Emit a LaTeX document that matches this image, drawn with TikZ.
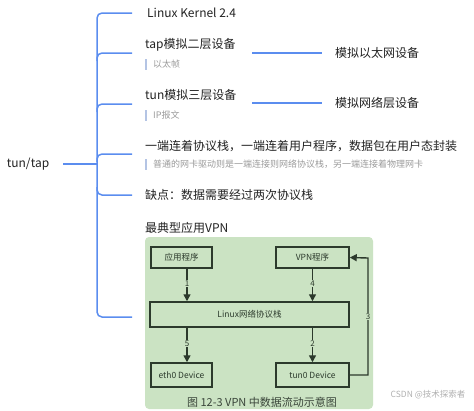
\documentclass[tikz,border=0pt]{standalone}
\usepackage{fontspec}
\setmainfont{Noto Sans CJK SC}
\usetikzlibrary{arrows.meta}
\definecolor{branchc}{HTML}{5B8DEF}
\definecolor{textc}{HTML}{222222}
\definecolor{subc}{HTML}{9A9A9A}
\definecolor{barc}{HTML}{B4C4E4}
\definecolor{panel}{HTML}{CBE3C3}
\definecolor{boxc}{HTML}{2C3A2C}
\definecolor{capc}{HTML}{3A453A}
\definecolor{wmc}{HTML}{B0B0B0}
\begin{document}
\begin{tikzpicture}[x=1pt,y=-1pt,
  br/.style={draw=branchc, line width=1.5pt, rounded corners=5pt},
  main/.style={anchor=west, inner sep=0pt, font=\fontsize{12}{14}\selectfont, text=textc},
  sub/.style={anchor=west, inner sep=0pt, font=\fontsize{9}{11}\selectfont, text=subc},
  bar/.style={draw=barc, line width=1.5pt},
  box/.style={draw=boxc, line width=1.5pt, fill=panel, inner sep=0pt, font=\fontsize{8.5}{10}\selectfont, text=boxc},
  flow/.style={draw=boxc, line width=1.4pt, -{Triangle[length=7pt,width=7pt]}},
  num/.style={fill=panel, inner sep=0.8pt, font=\fontsize{8}{9}\selectfont, text=boxc}]
\useasboundingbox (0,0) rectangle (474,410);

% root
\node[inner xsep=14pt, inner ysep=0pt, font=\fontsize{12}{14}\selectfont, text=textc] (root) at (28,164) {tun/tap};
\coordinate (j) at (97,164);
\draw[br] (root.east) -- (j);

% branch ends
\coordinate (b1) at (132,13);
\coordinate (b2) at (132,53);
\coordinate (b3) at (132,104);
\coordinate (b4) at (132,154);
\coordinate (b5) at (132,195);
\coordinate (b6) at (132,317);

\draw[br] (b1) -- (97,13) -- (97,317) -- (b6);
\draw[br] (97,61) -- (97,53) -- (b2);
\draw[br] (97,112) -- (97,104) -- (b3);
\draw[br] (97,162) -- (97,154) -- (b4);
\draw[br] (97,187) -- (97,195) -- (b5);

% texts
\node[main] (t1) at (147,13) {Linux Kernel 2.4};
\node[main] (t2) at (145,45) {tap模拟二层设备};
\draw[bar] (146,59) -- (146,70);
\node[sub] (s2) at (153,64) {以太帧};
\node[main] (t3) at (145,95) {tun模拟三层设备};
\draw[bar] (146,110) -- (146,121);
\node[sub] (s3) at (153,115) {IP报文};
\node[main] (t4) at (145,146) {一端连着协议栈，一端连着用户程序，数据包在用户态封装};
\draw[bar] (146,159) -- (146,170);
\node[sub] (s4) at (153,164) {普通的网卡驱动则是一端连接则网络协议栈，另一端连接着物理网卡};
\node[main] (t5) at (145,195) {缺点：数据需要经过两次协议栈};
\node[main] (t6) at (145,228) {最典型应用VPN};

% right children
\coordinate (r1) at (252,53);
\coordinate (r2) at (252,103);
\node[main, inner xsep=13pt] (c1) at (322,53) {模拟以太网设备};
\node[main, inner xsep=13pt] (c2) at (322,103) {模拟网络层设备};
\draw[br] (r1) -- (c1.west);
\draw[br] (r2) -- (c2.west);

% VPN figure
\fill[panel, rounded corners=4pt] (145,237) rectangle (373,409);
\node[box, minimum width=61pt, minimum height=21pt] (app) at (181.5,257.5) {应用程序};
\node[box, minimum width=73pt, minimum height=21pt] (vpn) at (312.5,257.5) {VPN程序};
\node[box, minimum width=199pt, minimum height=25pt] (stack) at (249.5,314.5) {Linux网络协议栈};
\node[box, minimum width=61pt, minimum height=24pt] (eth) at (181.5,375) {eth0 Device};
\node[box, minimum width=73pt, minimum height=24pt] (tun) at (312.5,375) {tun0 Device};

\draw[flow] ([xshift=5.5pt]app.south) -- ([xshift=5.5pt]app.south |- stack.north)
  node[num, pos=0.45] {1};
\draw[flow] (vpn.south) -- (vpn.south |- stack.north)
  node[num, pos=0.45] {4};
\draw[flow] ([xshift=5.5pt]stack.south -| app.south) -- ([xshift=5.5pt]eth.north)
  node[num, pos=0.45] {5};
\draw[flow] (stack.south -| vpn.south) -- (tun.north)
  node[num, pos=0.45] {2};
\coordinate (k1) at (368,375);
\coordinate (k2) at (368,258);
\draw[flow] (tun.east) -- (k1) -- node[num, pos=0.5] {3} (k2) -- (vpn.east);

\node[font=\fontsize{11}{13}\selectfont, text=capc] (cap) at (262,402) {图 12-3 VPN 中数据流动示意图};
\node[font=\fontsize{8.5}{10}\selectfont, text=wmc] (wm) at (428,395) {CSDN @技术探索者};
\end{tikzpicture}
\end{document}
